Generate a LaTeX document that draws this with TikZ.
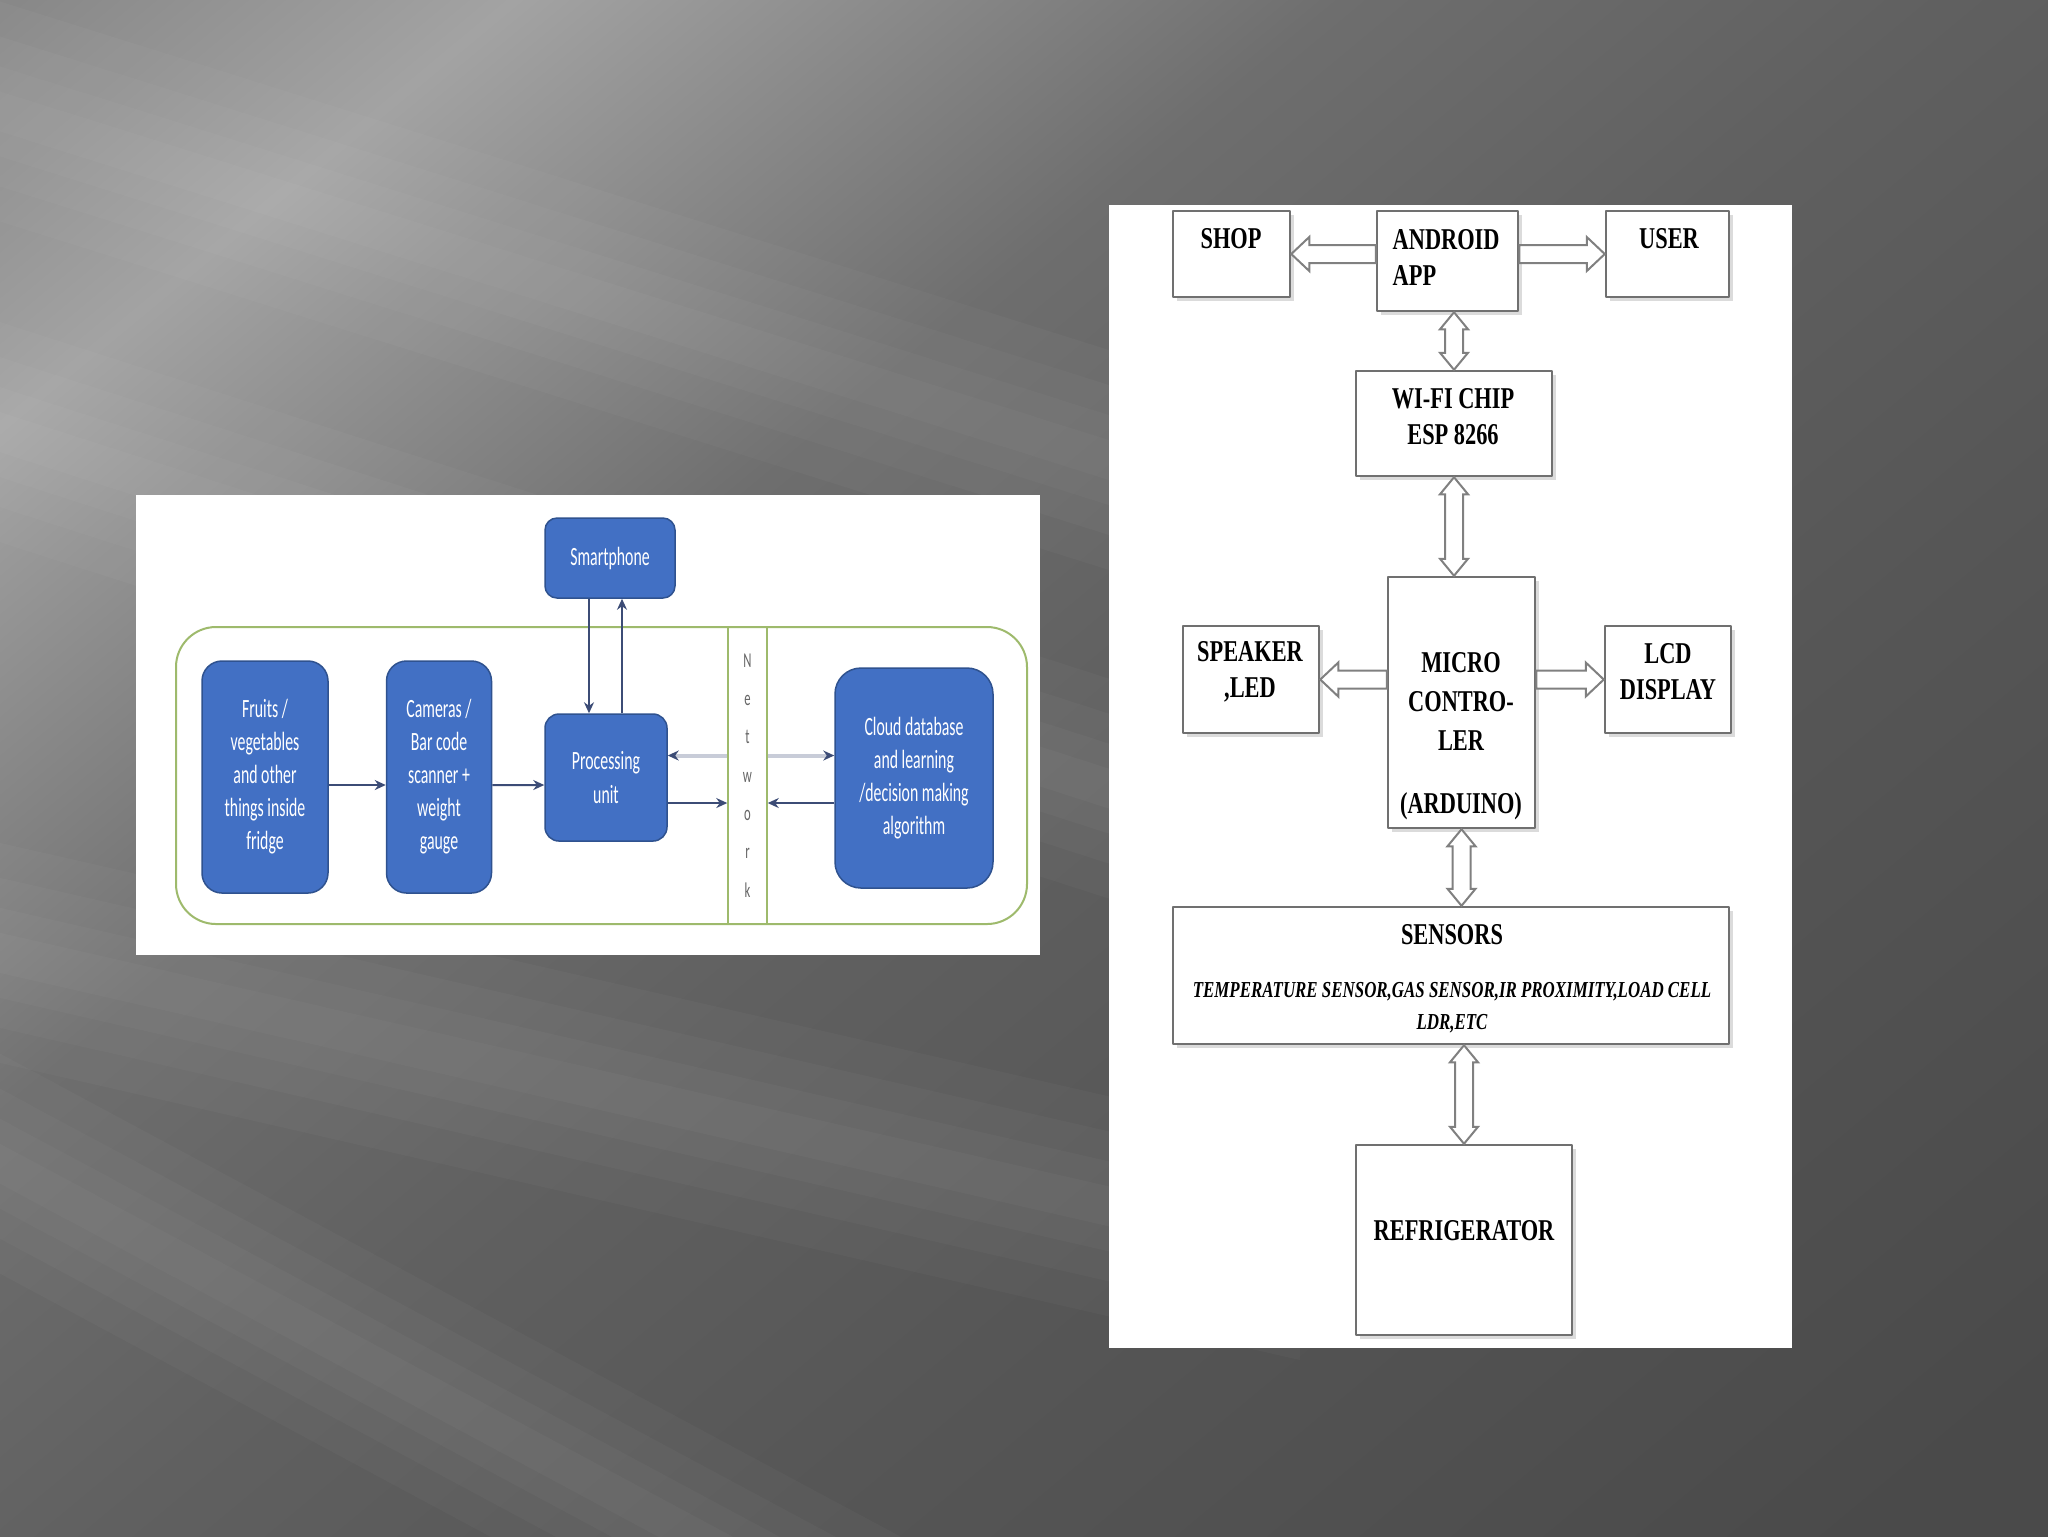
\documentclass[tikz,border=0pt]{standalone}
\usepackage{fontspec}
\newfontfamily\flowfont[FakeStretch=0.6]{Carlito}
\newfontfamily\blockfont[FakeStretch=0.74]{Liberation Serif}
\usetikzlibrary{calc,arrows.meta,shadows}

\definecolor{boxblue}{RGB}{66,112,196}
\definecolor{edgeblue}{RGB}{47,82,143}
\definecolor{arrblue}{RGB}{60,76,118}
\definecolor{lightarr}{RGB}{200,204,216}
\definecolor{frameg}{RGB}{158,186,108}
\definecolor{boxgray}{RGB}{112,112,112}
\definecolor{fatgray}{RGB}{128,128,128}
\definecolor{bg0}{RGB}{128,128,128}
\definecolor{bg1}{RGB}{136,136,136}
\definecolor{bg2}{RGB}{163,163,163}
\definecolor{bg3}{RGB}{138,138,138}
\definecolor{bg4}{RGB}{110,110,110}
\definecolor{bg5}{RGB}{96,96,96}
\definecolor{bg6}{RGB}{86,86,86}
\definecolor{bg7}{RGB}{74,74,74}
\pgfdeclarehorizontalshading{slidebg}{100bp}{color(0bp)=(bg0); color(15bp)=(bg1); color(24bp)=(bg2); color(31bp)=(bg3); color(39bp)=(bg4); color(50bp)=(bg5); color(62bp)=(bg6); color(82bp)=(bg7); color(100bp)=(bg7)}

\tikzset{
  flowbox/.style={draw=edgeblue, fill=boxblue, text=white, rounded corners=2mm, align=center, inner sep=0pt, line width=0.15mm, font=\flowfont\fontsize{7.5}{9.4}\selectfont},
  frame/.style={draw=frameg, rounded corners=4mm, line width=0.2mm, minimum width=85.1mm, minimum height=29.7mm},
  netstrip/.style={draw=frameg, line width=0.15mm, minimum width=3.9mm, minimum height=29.7mm, inner sep=0pt, align=center, text=black!60, font=\flowfont\fontsize{6}{10.9}\selectfont},
  flow/.style={draw=arrblue, line width=0.2mm, ->},
  lightflow/.style={draw=lightarr, line width=0.4mm, -{Stealth[length=1.1mm,width=1mm,color=arrblue]}},
  blockbox/.style={draw=boxgray, fill=white, line width=0.25mm, inner sep=0pt, drop shadow={shadow xshift=0.35mm, shadow yshift=-0.35mm, fill=black!14, opacity=1}},
  blocktext/.style={inner sep=0pt, align=center, font=\blockfont\bfseries\fontsize{8.6}{10.3}\selectfont},
  beam/.style={fill=white, opacity=.028},
  fatarrow/.style={draw=fatgray, fill=white, line width=0.2mm, line join=miter, to path={
    let \p1=(\tikztostart), \p2=(\tikztotarget), \n1={atan2(\y2-\y1,\x2-\x1)} in
    ($(\tikztostart)+(\n1+90:0.9mm)$)
    -- ($(\tikztotarget)+(\n1+180:1.8mm)+(\n1+90:0.9mm)$)
    -- ($(\tikztotarget)+(\n1+180:1.8mm)+(\n1+90:1.7mm)$)
    -- (\tikztotarget)
    -- ($(\tikztotarget)+(\n1+180:1.8mm)+(\n1-90:1.7mm)$)
    -- ($(\tikztotarget)+(\n1+180:1.8mm)+(\n1-90:0.9mm)$)
    -- ($(\tikztostart)+(\n1-90:0.9mm)$) -- cycle}},
  fatdarrow/.style={draw=fatgray, fill=white, line width=0.2mm, line join=miter, to path={
    let \p1=(\tikztostart), \p2=(\tikztotarget), \n1={atan2(\y2-\y1,\x2-\x1)} in
    (\tikztostart)
    -- ($(\tikztostart)+(\n1:1.7mm)+(\n1+90:1.4mm)$)
    -- ($(\tikztostart)+(\n1:1.7mm)+(\n1+90:0.9mm)$)
    -- ($(\tikztotarget)+(\n1+180:1.7mm)+(\n1+90:0.9mm)$)
    -- ($(\tikztotarget)+(\n1+180:1.7mm)+(\n1+90:1.4mm)$)
    -- (\tikztotarget)
    -- ($(\tikztotarget)+(\n1+180:1.7mm)+(\n1-90:1.4mm)$)
    -- ($(\tikztotarget)+(\n1+180:1.7mm)+(\n1-90:0.9mm)$)
    -- ($(\tikztostart)+(\n1:1.7mm)+(\n1-90:0.9mm)$)
    -- ($(\tikztostart)+(\n1:1.7mm)+(\n1-90:1.4mm)$) -- cycle}},
}

\begin{document}
\begin{tikzpicture}[x=0.1mm, y=-0.1mm, line join=round, >={Stealth[length=1.1mm,width=1mm]}]
  \useasboundingbox (0,0) rectangle (2048,1536);
  % slide background and soft light bands
  \shade[shading=slidebg, shading angle=-50.3] (0,0) rectangle (2048,1536);
  \foreach \w in {20,45,75,110} {
    \fill[beam] (-100,80-\w) -- (1300,520-\w) -- (1300,520+\w) -- (-100,80+\w) -- cycle;
    \fill[beam] (-100,400-\w) -- (1300,850-\w) -- (1300,850+\w) -- (-100,400+\w) -- cycle;
    \fill[beam] (-100,930-\w) -- (1300,1250-\w) -- (1300,1250+\w) -- (-100,930+\w) -- cycle;
    \fill[beam] (-100,1110-\w) -- (1000,1700-\w) -- (1000,1700+\w) -- (-100,1110+\w) -- cycle;
  }

  % left panel: smart fridge flow
  \fill[white] (136,495) rectangle (1040,955);
  \node[frame] (frame) at (601.5,775.5) {};
  \node[netstrip] (net) at (747.5,775.5) {N\\e\\t\\w\\o\\r\\k};
  \node[flowbox, minimum width=13mm, minimum height=8mm, rounded corners=1.2mm] (phone) at (610,558) {Smartphone};
  \node[flowbox, minimum width=12.6mm, minimum height=23.2mm] (fruits) at (265,777) {Fruits /\\vegetables\\and other\\things inside\\fridge};
  \node[flowbox, minimum width=10.5mm, minimum height=23.2mm] (cams) at (439,777) {Cameras /\\Bar code\\scanner +\\weight\\gauge};
  \node[flowbox, minimum width=12.2mm, minimum height=12.7mm, rounded corners=1.4mm] (proc) at (606,777.5) {Processing\\unit};
  \node[flowbox, minimum width=15.8mm, minimum height=22mm, rounded corners=2.6mm] (cloud) at (914,778) {Cloud database\\and learning\\/decision making\\algorithm};
  \coordinate (netin) at ($(proc.east)+(0,-22)$);
  \coordinate (netout) at ($(proc.east)+(0,25.5)$);
  \draw[flow] ($(fruits.east)+(0,8)$) -- ($(cams.west)+(0,8)$);
  \draw[flow] ($(cams.east)+(0,8)$) -- ($(proc.west)+(0,7.5)$);
  \draw[flow] ($(phone.south)+(-21,0)$) -- ($(proc.north)+(-17,0)$);
  \draw[flow] ($(proc.north)+(16,0)$) -- ($(phone.south)+(12,0)$);
  \draw[lightflow] (net.west |- netin) -- (netin);
  \draw[lightflow] (net.east |- netin) -- (cloud.west |- netin);
  \draw[flow] (netout) -- (net.west |- netout);
  \draw[flow] (cloud.west |- netout) -- (net.east |- netout);

  % right panel: block diagram
  \fill[white] (1109,205) rectangle (1792,1348);
  \node[blockbox, minimum width=11.7mm, minimum height=8.6mm] (shop) at (1231.5,254) {};
  \node[blockbox, minimum width=14.1mm, minimum height=10mm] (android) at (1447.5,261) {};
  \node[blockbox, minimum width=12.3mm, minimum height=8.6mm] (user) at (1667.5,254) {};
  \node[blockbox, minimum width=19.6mm, minimum height=10.5mm] (wifi) at (1454,423.5) {};
  \node[blockbox, minimum width=14.7mm, minimum height=25.1mm] (mcu) at (1461.5,702.5) {};
  \node[blockbox, minimum width=13.6mm, minimum height=10.7mm] (spk) at (1251,679.5) {};
  \node[blockbox, minimum width=12.6mm, minimum height=10.7mm] (lcd) at (1668,679.5) {};
  \node[blockbox, minimum width=55.6mm, minimum height=13.7mm] (sensors) at (1451,975.5) {};
  \node[blockbox, minimum width=21.6mm, minimum height=19mm] (fridge) at (1464,1240) {};

  \node[blocktext] (shoplbl) at (1231,239) {SHOP};
  \node[blocktext, anchor=west, align=left] (androidlbl) at (1392,257.5) {ANDROID\\APP};
  \node[blocktext] (userlbl) at (1669,239) {USER};
  \node[blocktext] (wifilbl) at (1453,416.5) {WI-FI CHIP\\ESP 8266};
  \node[blocktext, font=\blockfont\bfseries\fontsize{8.6}{11.2}\selectfont] (mculbl) at (1461,736) {MICRO\\CONTRO-\\LER\\[2.35mm](ARDUINO)};
  \node[blocktext] (spklbl) at (1250,671.5) {SPEAKER\\,LED};
  \node[blocktext] (lcdlbl) at (1668,671.5) {LCD\\DISPLAY};
  \node[blocktext] (sensorslbl) at (1452,935) {SENSORS};
  \node[blocktext, font=\blockfont\bfseries\itshape\fontsize{6.5}{9.1}\selectfont] (sensorlist) at (1452,1008) {TEMPERATURE SENSOR,GAS SENSOR,IR PROXIMITY,LOAD CELL\\LDR,ETC};
  \node[blocktext] (fridgelbl) at (1464,1231) {REFRIGERATOR};

  \draw[fatarrow] (android.west |- shop.east) to (shop.east);
  \draw[fatarrow] (android.east |- user.west) to (user.west);
  \draw[fatdarrow] (wifi.north) to (wifi.north |- android.south);
  \draw[fatdarrow] (wifi.south) to (wifi.south |- mcu.north);
  \draw[fatarrow] (mcu.west |- spk.east) to (spk.east);
  \draw[fatarrow] (mcu.east |- lcd.west) to (lcd.west);
  \draw[fatdarrow] (mcu.south) to (mcu.south |- sensors.north);
  \draw[fatdarrow] (fridge.north) to (fridge.north |- sensors.south);
\end{tikzpicture}
\end{document}
